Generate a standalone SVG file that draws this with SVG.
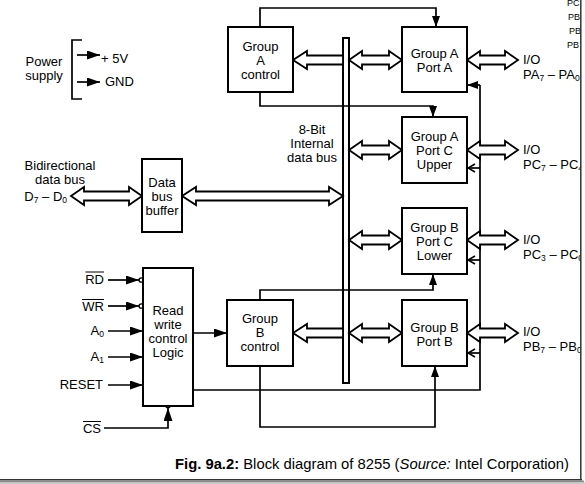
<svg xmlns="http://www.w3.org/2000/svg" width="585" height="484" viewBox="0 0 585 484">
<style>
.box{fill:#fff;stroke:#000;stroke-width:2}
.ln{fill:none;stroke:#000;stroke-width:1.7}
.ha{fill:#fff;stroke:#000;stroke-width:1.8;stroke-linejoin:miter}
.bub{fill:#fff;stroke:#000;stroke-width:1.3}
text{font-family:"Liberation Sans",Arial,Helvetica,sans-serif;font-size:13px;fill:#000}
.c{text-anchor:middle}
.e{text-anchor:end}
.sub{font-size:8.5px}
.tiny{font-size:9px}
.cap{font-size:14.8px}
</style>
<defs>
<marker id="ar" viewBox="0 0 11 8" refX="11" refY="4" markerWidth="11" markerHeight="8" markerUnits="userSpaceOnUse" orient="auto"><path d="M0,0 L11,4 L0,8 Z" fill="#000"/></marker>
<marker id="arb" viewBox="0 0 13 9" refX="13" refY="4.5" markerWidth="13" markerHeight="9" markerUnits="userSpaceOnUse" orient="auto"><path d="M0,0 L13,4.5 L0,9 Z" fill="#000"/></marker>
<marker id="ch" viewBox="0 0 9 10" refX="8" refY="5" markerWidth="9" markerHeight="10" markerUnits="userSpaceOnUse" orient="auto"><path d="M1,1 L8,5 L1,9" fill="none" stroke="#000" stroke-width="1.6"/></marker>
</defs>
<rect width="585" height="484" fill="#fff"/>

<g id="internal-bus">
<rect x="343" y="38" width="6" height="345" fill="#fff" stroke="#000" stroke-width="2"/>
<text class="c" x="312" y="134">8-Bit</text>
<text class="c" x="312" y="148">Internal</text>
<text class="c" x="312" y="162">data bus</text>
</g>

<g id="connectors">
<path class="ln" d="M260,27 V8 H436 V27" marker-end="url(#ar)"/>
<path class="ln" d="M260,92 V106 H433 V117" marker-end="url(#ar)"/>
<path class="ln" d="M260,300 V290 H433 V274" marker-end="url(#ar)"/>
<path class="ln" d="M260,366 V427 H435 V366" marker-end="url(#ar)"/>
<path class="ln" d="M193,390 H480 V85"/>
<path class="ln" d="M480,85 H467" marker-end="url(#ar)"/>
<path class="ln" d="M480,168 H468" marker-end="url(#ch)"/>
<path class="ln" d="M480,260 H468" marker-end="url(#ch)"/>
<path class="ln" d="M480,353 H468" marker-end="url(#ch)"/>
<path class="ln" d="M193,333 H227" marker-end="url(#arb)"/>
<path class="ln" d="M108,280 H139" marker-end="url(#arb)"/>
<circle class="bub" cx="141.3" cy="280" r="2.2"/>
<path class="ln" d="M108,306 H139" marker-end="url(#arb)"/>
<circle class="bub" cx="141.3" cy="306" r="2.2"/>
<path class="ln" d="M108,331 H143" marker-end="url(#arb)"/>
<path class="ln" d="M108,357 H143" marker-end="url(#arb)"/>
<path class="ln" d="M108,385 H143" marker-end="url(#arb)"/>
<path class="ln" d="M104,428 H168 V408" marker-end="url(#arb)"/>
<circle class="bub" cx="168" cy="405.5" r="2.2"/>
<path class="ln" d="M82,40 H72 V99 H82"/>
<path class="ln" d="M77,55 H100" marker-end="url(#arb)"/>
<path class="ln" d="M77,82 H100" marker-end="url(#arb)"/>
<path class="ha" d="M71,196 L84,187 L84,191.5 L129,191.5 L129,187 L142,196 L129,205 L129,200.5 L84,200.5 L84,205 Z"/>
<path class="ha" d="M182,196 L196,187 L196,191.5 L329,191.5 L329,187 L343,196 L329,205 L329,200.5 L196,200.5 L196,205 Z"/>
<path class="ha" d="M293,60 L307,51 L307,55.5 L343,55.5 L343,64.5 L307,64.5 L307,69 Z"/>
<path class="ha" d="M293,333 L307,324 L307,328.5 L343,328.5 L343,337.5 L307,337.5 L307,342 Z"/>
<path class="ha" d="M349,60 L362,51 L362,55.5 L389,55.5 L389,51 L402,60 L389,69 L389,64.5 L362,64.5 L362,69 Z"/>
<path class="ha" d="M349,150 L362,141 L362,145.5 L389,145.5 L389,141 L402,150 L389,159 L389,154.5 L362,154.5 L362,159 Z"/>
<path class="ha" d="M349,240 L362,231 L362,235.5 L389,235.5 L389,231 L402,240 L389,249 L389,244.5 L362,244.5 L362,249 Z"/>
<path class="ha" d="M349,333 L362,324 L362,328.5 L389,328.5 L389,324 L402,333 L389,342 L389,337.5 L362,337.5 L362,342 Z"/>
<path class="ha" d="M467,60 L480,51 L480,55.5 L505,55.5 L505,51 L518,60 L505,69 L505,64.5 L480,64.5 L480,69 Z"/>
<path class="ha" d="M467,150 L480,141 L480,145.5 L505,145.5 L505,141 L518,150 L505,159 L505,154.5 L480,154.5 L480,159 Z"/>
<path class="ha" d="M467,240 L480,231 L480,235.5 L505,235.5 L505,231 L518,240 L505,249 L505,244.5 L480,244.5 L480,249 Z"/>
<path class="ha" d="M467,333 L480,324 L480,328.5 L505,328.5 L505,324 L518,333 L505,342 L505,337.5 L480,337.5 L480,342 Z"/>
</g>

<g id="power-supply">
<text class="c" x="44" y="66">Power</text>
<text class="c" x="44" y="80">supply</text>
<text x="101" y="63">+ 5V</text>
<text x="105" y="86">GND</text>
</g>

<g id="data-bus-label">
<text class="c" x="60" y="169.5">Bidirectional</text>
<text class="c" x="60" y="184">data bus</text>
<text class="e" x="67" y="201">D<tspan class="sub" dy="2">7</tspan><tspan dy="-2"> – D</tspan><tspan class="sub" dy="2">0</tspan></text>
</g>

<g id="data-bus-buffer">
<rect class="box" x="142" y="159" width="40" height="73"/>
<text class="c" x="162" y="187">Data</text>
<text class="c" x="162" y="201">bus</text>
<text class="c" x="162" y="215">buffer</text>
</g>

<g id="group-a-control">
<rect class="box" x="228" y="27" width="65" height="65"/>
<text class="c" x="260.5" y="51">Group</text>
<text class="c" x="260.5" y="65">A</text>
<text class="c" x="260.5" y="79">control</text>
</g>

<g id="group-b-control">
<rect class="box" x="227" y="300" width="66" height="66"/>
<text class="c" x="260" y="323">Group</text>
<text class="c" x="260" y="337">B</text>
<text class="c" x="260" y="351">control</text>
</g>

<g id="port-a">
<rect class="box" x="402" y="27" width="65" height="65"/>
<text class="c" x="434.5" y="58">Group A</text>
<text class="c" x="434.5" y="72">Port A</text>
</g>

<g id="port-c-upper">
<rect class="box" x="402" y="117" width="65" height="66"/>
<text class="c" x="434.5" y="141">Group A</text>
<text class="c" x="434.5" y="155">Port C</text>
<text class="c" x="434.5" y="169">Upper</text>
</g>

<g id="port-c-lower">
<rect class="box" x="402" y="208" width="65" height="66"/>
<text class="c" x="434.5" y="232">Group B</text>
<text class="c" x="434.5" y="246">Port C</text>
<text class="c" x="434.5" y="260">Lower</text>
</g>

<g id="port-b">
<rect class="box" x="402" y="300" width="65" height="66"/>
<text class="c" x="434.5" y="332">Group B</text>
<text class="c" x="434.5" y="346">Port B</text>
</g>

<g id="read-write-logic">
<rect class="box" x="143" y="268" width="50" height="138"/>
<text class="c" x="168" y="315">Read</text>
<text class="c" x="168" y="329">write</text>
<text class="c" x="168" y="343">control</text>
<text class="c" x="168" y="357">Logic</text>
</g>

<g id="control-inputs">
<text class="e" x="104" y="284">RD</text>
<line x1="85.5" y1="272" x2="104" y2="272" stroke="#000" stroke-width="1"/>
<text class="e" x="104" y="311">WR</text>
<line x1="82" y1="299.5" x2="104" y2="299.5" stroke="#000" stroke-width="1"/>
<text class="e" x="104" y="335">A<tspan class="sub" dy="2">0</tspan></text>
<text class="e" x="104" y="361">A<tspan class="sub" dy="2">1</tspan></text>
<text class="e" x="103" y="389">RESET</text>
<text class="e" x="101" y="433">CS</text>
<line x1="83" y1="421.5" x2="101" y2="421.5" stroke="#000" stroke-width="1"/>
</g>

<g id="io-labels">
<text x="523" y="64">I/O</text>
<text x="523" y="79">PA<tspan class="sub" dy="2">7</tspan><tspan dy="-2"> – PA</tspan><tspan class="sub" dy="2">0</tspan></text>
<text x="523" y="154">I/O</text>
<text x="523" y="169">PC<tspan class="sub" dy="2">7</tspan><tspan dy="-2"> – PC</tspan><tspan class="sub" dy="2">4</tspan></text>
<text x="523" y="244">I/O</text>
<text x="523" y="259">PC<tspan class="sub" dy="2">3</tspan><tspan dy="-2"> – PC</tspan><tspan class="sub" dy="2">0</tspan></text>
<text x="523" y="336">I/O</text>
<text x="523" y="351">PB<tspan class="sub" dy="2">7</tspan><tspan dy="-2"> – PB</tspan><tspan class="sub" dy="2">0</tspan></text>
</g>

<g id="fragments">
<text class="tiny" x="567" y="6">PC</text>
<text class="tiny" x="568" y="20">PB</text>
<text class="tiny" x="569" y="34">PB</text>
<text class="tiny" x="567" y="48">PB</text>
</g>

<g id="caption">
<text class="cap" x="175" y="469"><tspan font-weight="bold">Fig. 9a.2:</tspan> Block diagram of 8255 (<tspan font-style="italic">Source:</tspan> Intel Corporation)</text>
</g>

<g id="frame">
<rect x="581" y="0" width="4" height="484" fill="#fff"/>
<line x1="580.8" y1="0" x2="580.8" y2="480" stroke="#333" stroke-width="1.5"/>
<rect x="0" y="479" width="582" height="1.5" fill="#333"/>
<rect x="0" y="480.5" width="584" height="2" fill="#888"/>
<rect x="0" y="482.5" width="585" height="1.5" fill="#c8c8c8"/>
</g>
</svg>
